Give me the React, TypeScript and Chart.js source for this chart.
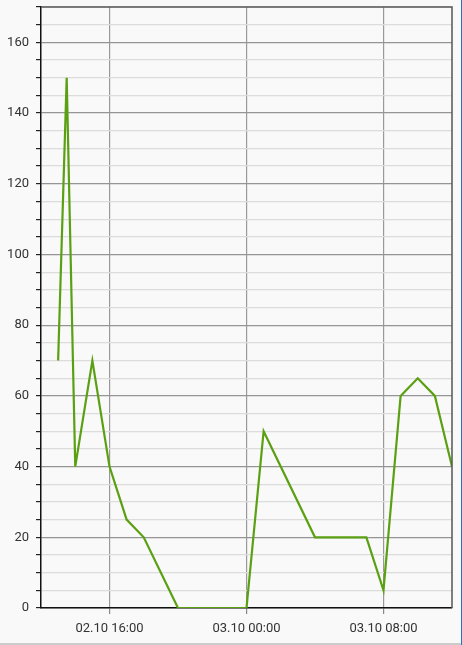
import { useEffect, useRef } from 'react';
import { Chart, registerables } from 'chart.js';

Chart.register(...registerables);

// hours counted from 02.10 00:00
const hours = [13, 13.5, 14, 15, 16, 17, 18, 20, 21, 22, 23, 24, 25, 28, 31, 32, 33, 34, 35, 36];
const values = [70, 150, 40, 70, 40, 25, 20, 0, 0, 0, 0, 0, 50, 20, 20, 5, 60, 65, 60, 40];
const timeTicks = [16, 24, 32];
const xMin = 12;
const xMax = 36;
const yMax = 170;

const fmtTime = (h: number) => {
  const day = 2 + Math.floor(h / 24);
  const hh = h % 24;
  return `${String(day).padStart(2, '0')}.10 ${String(hh).padStart(2, '0')}:00`;
};

const frame = {
  id: 'frame',
  afterDraw(chart: Chart) {
    const { ctx, chartArea: a } = chart;
    ctx.save();
    ctx.strokeStyle = '#555';
    ctx.lineWidth = 1.5;
    ctx.beginPath();
    ctx.moveTo(a.left, a.top);
    ctx.lineTo(a.right, a.top);
    ctx.lineTo(a.right, a.bottom);
    ctx.stroke();
    ctx.restore();
  },
};

export default function App() {
  const canvasRef = useRef<HTMLCanvasElement>(null);
  const chartRef = useRef<Chart | null>(null);

  useEffect(() => {
    document.body.style.margin = '0';
    if (!canvasRef.current) return;
    if (chartRef.current) chartRef.current.destroy();

    chartRef.current = new Chart(canvasRef.current, {
      type: 'line',
      data: {
        datasets: [{
          data: hours.map((h, i) => ({ x: h, y: values[i] })),
          borderColor: '#5aa012',
          borderWidth: 2.2,
          pointRadius: 0,
          tension: 0,
          fill: false,
        }],
      },
      options: {
        animation: false,
        responsive: true,
        maintainAspectRatio: false,
        layout: { padding: { top: 7, right: 10, left: 0, bottom: 0 } },
        plugins: { legend: { display: false }, tooltip: { enabled: false } },
        scales: {
          x: {
            type: 'linear',
            min: xMin,
            max: xMax,
            afterBuildTicks: (scale: any) => {
              scale.ticks = timeTicks.map((v) => ({ value: v }));
            },
            afterFit: (scale: any) => {
              scale.height = 37;
              scale.paddingLeft = 0;
              scale.paddingRight = 0;
            },
            grid: { color: '#999', lineWidth: 1.2, tickLength: 6, tickColor: '#888' },
            border: { display: true, color: '#111', width: 1.5 },
            ticks: {
              color: '#333',
              padding: 7,
              maxRotation: 0,
              font: { family: 'Roboto', size: 13 },
              callback: (v: any) => fmtTime(Number(v)),
            },
          },
          y: {
            min: 0,
            max: yMax,
            afterFit: (scale: any) => {
              scale.width = 41;
              scale.paddingTop = 0;
              scale.paddingBottom = 0;
            },
            grid: {
              color: (c: any) => (c.tick && c.tick.value % 20 === 0 ? '#959595' : '#dcdcdc'),
              lineWidth: 1.2,
              tickLength: 5,
              tickColor: '#222',
            },
            border: { display: true, color: '#111', width: 1.5 },
            ticks: {
              stepSize: 5,
              autoSkip: false,
              color: '#333',
              padding: 7,
              font: { family: 'Roboto', size: 13 },
              callback: (v: any) => (Number(v) % 20 === 0 && Number(v) <= 160 ? String(v) : ''),
            },
          },
        },
      },
      plugins: [frame],
    });

    return () => chartRef.current?.destroy();
  }, []);

  return (
    <div
      style={{
        width: 462,
        height: 645,
        background: '#f9f9f9',
        boxShadow: 'inset -1px 0 #2f6fc0, inset 0 -2px #cccccc',
      }}
    >
      <canvas ref={canvasRef} />
    </div>
  );
}
